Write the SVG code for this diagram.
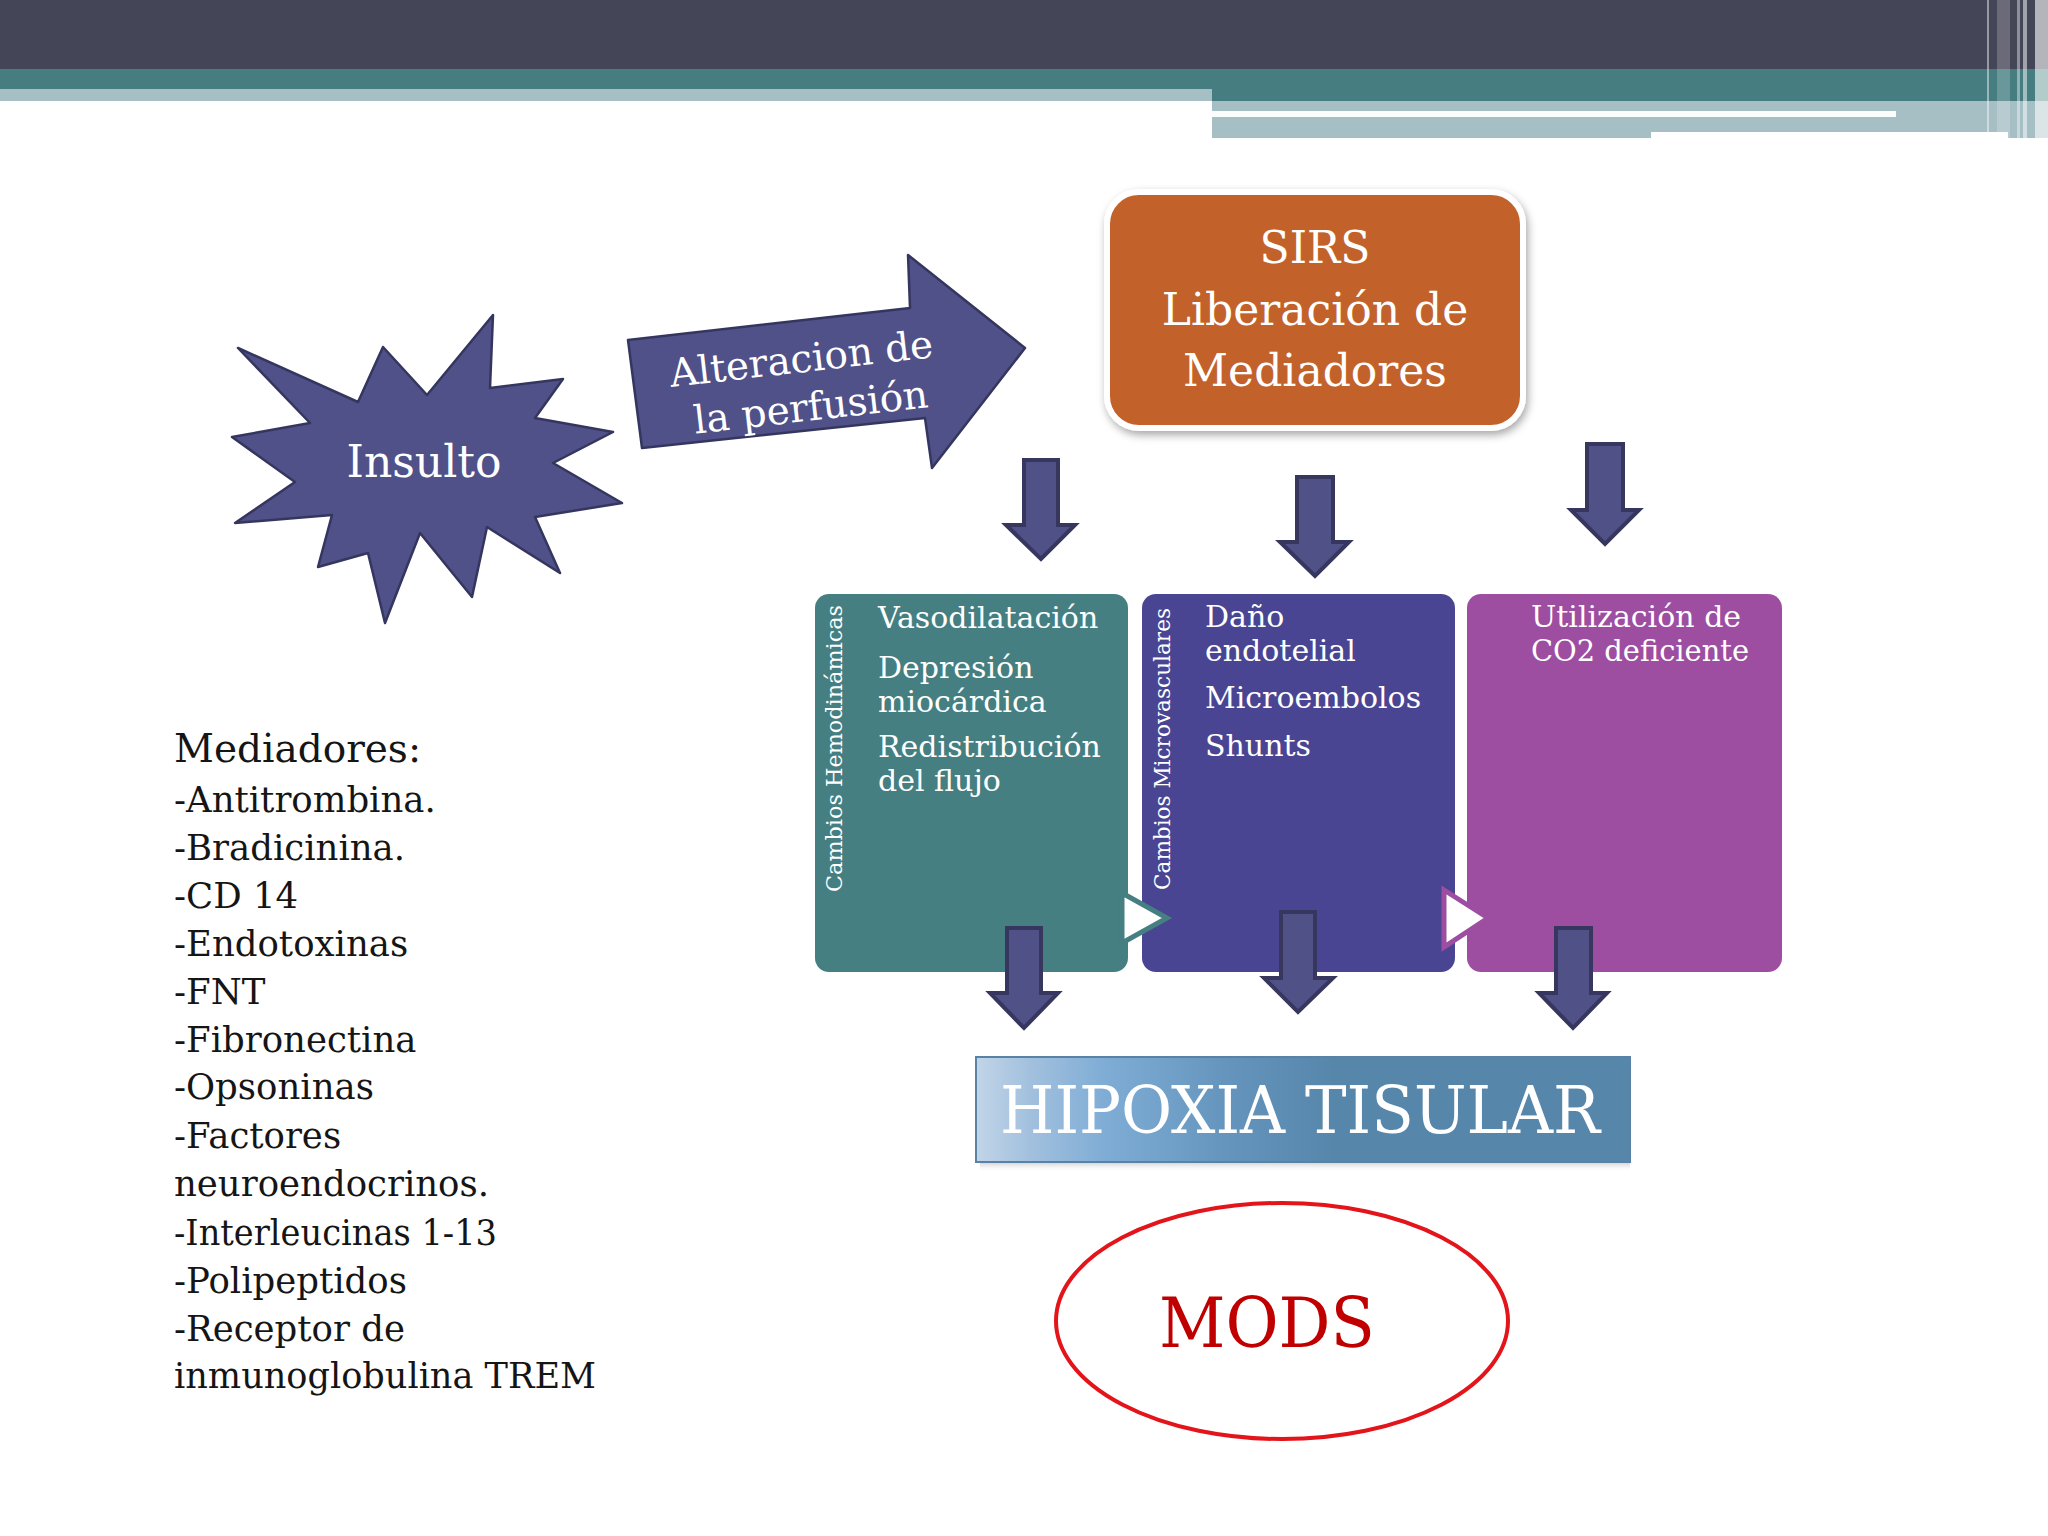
<svg xmlns="http://www.w3.org/2000/svg" width="2048" height="1536" viewBox="0 0 2048 1536">
<defs>
<style>
.serif{font-family:"DejaVu Serif","Liberation Serif",serif;}
.w{fill:#ffffff;}
.dark{fill:#151515;}
.shape{fill:#4f5188;stroke:#35365f;stroke-width:2.5;stroke-linejoin:round;}
.darr{fill:#4f5187;stroke:#36365f;stroke-width:4;stroke-linejoin:miter;}
.chev1{fill:#ffffff;stroke:#457f81;stroke-width:5;}
.chev2{fill:#ffffff;stroke:#9d4ea1;stroke-width:5;}
</style>
<linearGradient id="hipGrad" x1="0" y1="0" x2="1" y2="0">
<stop offset="0" stop-color="#c2d5e8"/>
<stop offset="0.08" stop-color="#a3c1de"/>
<stop offset="0.2" stop-color="#7eacd5"/>
<stop offset="0.38" stop-color="#6595bd"/>
<stop offset="0.55" stop-color="#5686aa"/>
<stop offset="1" stop-color="#5686aa"/>
</linearGradient>
<linearGradient id="hipShadow" x1="0" y1="0" x2="0" y2="1">
<stop offset="0" stop-color="#b8b8b8"/>
<stop offset="1" stop-color="#ffffff" stop-opacity="0"/>
</linearGradient>
<filter id="shadow" x="-10%" y="-10%" width="120%" height="130%">
<feDropShadow dx="2" dy="4" stdDeviation="4" flood-color="#000" flood-opacity="0.35"/>
</filter>
</defs>

<rect width="2048" height="1536" fill="#ffffff"/>

<g id="header">
<rect x="0" y="0" width="2048" height="69" fill="#454558"/>
<rect x="0" y="69" width="1212" height="20" fill="#457d80"/>
<rect x="0" y="89" width="1212" height="12" fill="#a6bfc5"/>
<rect x="1212" y="69" width="836" height="32" fill="#457d80"/>
<rect x="1212" y="101" width="836" height="37" fill="#a6bfc5"/>
<rect x="1212" y="111" width="684" height="6" fill="#fbfdfd"/>
<rect x="1651" y="132" width="357" height="6" fill="#ffffff"/>
<rect x="1987" y="0" width="2" height="138" fill="#ffffff" opacity="0.45"/>
<rect x="1997" y="0" width="13" height="138" fill="#ffffff" opacity="0.2"/>
<rect x="2017" y="0" width="3" height="138" fill="#ffffff" opacity="0.4"/>
<rect x="2023" y="0" width="4" height="138" fill="#ffffff" opacity="0.5"/>
<rect x="2035" y="0" width="13" height="138" fill="#ffffff" opacity="0.6"/>
</g>

<g id="insulto">
<polygon class="shape" points="493,315 490,388 563,379 535,418 613,432 553,463 622,503 535,517 560,573 487,527 472,597 420,533 385,623 368,553 318,567 332,515 235,523 295,482 232,437 310,423 238,348 358,402 383,347 427,395"/>
<text class="serif w" x="424" y="477" font-size="44" text-anchor="middle">Insulto</text>
</g>

<g id="alteracion">
<polygon class="shape" points="628,340 910,308 908,255 1025,348 932,468 925,418 642,448"/>
<g transform="rotate(-6.5 805 392)">
<text class="serif w" x="805" y="372" font-size="39" text-anchor="middle">Alteracion de</text>
<text class="serif w" x="809" y="421" font-size="39" text-anchor="middle">la perfusión</text>
</g>
</g>

<g id="sirs">
<rect x="1107" y="192" width="416" height="236" rx="32" fill="#c2622c" stroke="#ffffff" stroke-width="6" filter="url(#shadow)"/>
<text class="serif w" x="1315" y="263" font-size="44" text-anchor="middle">SIRS</text>
<text class="serif w" x="1315" y="325" font-size="44" text-anchor="middle">Liberación de</text>
<text class="serif w" x="1315" y="386" font-size="44" text-anchor="middle">Mediadores</text>
</g>

<g id="box-hemodinamicas">
<rect x="815" y="594" width="313" height="378" rx="14" fill="#457f81"/>
<text class="serif w" transform="translate(842,892) rotate(-90)" font-size="21.5" textLength="287" lengthAdjust="spacingAndGlyphs">Cambios Hemodinámicas</text>
<text class="serif w" font-size="30">
<tspan x="878" y="628">Vasodilatación</tspan>
<tspan x="878" y="678">Depresión</tspan>
<tspan x="878" y="712">miocárdica</tspan>
<tspan x="878" y="757">Redistribución</tspan>
<tspan x="878" y="791">del flujo</tspan>
</text>
</g>

<g id="box-microvasculares">
<rect x="1142" y="594" width="313" height="378" rx="14" fill="#4a4592"/>
<text class="serif w" transform="translate(1170,890) rotate(-90)" font-size="21.5" textLength="282" lengthAdjust="spacingAndGlyphs">Cambios Microvasculares</text>
<text class="serif w" font-size="30">
<tspan x="1205" y="627">Daño</tspan>
<tspan x="1205" y="661">endotelial</tspan>
<tspan x="1205" y="708">Microembolos</tspan>
<tspan x="1205" y="756">Shunts</tspan>
</text>
</g>

<g id="box-co2">
<rect x="1467" y="594" width="315" height="378" rx="14" fill="#9d4ea1"/>
<text class="serif w" font-size="30">
<tspan x="1531" y="627">Utilización de</tspan>
<tspan x="1531" y="661" textLength="218" lengthAdjust="spacingAndGlyphs">CO2 deficiente</tspan>
</text>
</g>

<g id="hipoxia">
<rect x="980" y="1160" width="650" height="12" fill="url(#hipShadow)"/>
<rect x="976" y="1057" width="654" height="105" fill="url(#hipGrad)" stroke="#5a82a5" stroke-width="2"/>
<text class="serif w" x="1000" y="1133" font-size="66" textLength="600" lengthAdjust="spacingAndGlyphs">HIPOXIA TISULAR</text>
</g>

<g id="mods">
<ellipse cx="1282" cy="1321" rx="226" ry="118" fill="#ffffff" stroke="#e3141a" stroke-width="4"/>
<text class="serif" x="1159" y="1347" font-size="70" textLength="216" lengthAdjust="spacingAndGlyphs" fill="#c00000">MODS</text>
</g>

<g id="mediadores">
<text class="serif dark" x="174" y="762" font-size="39">Mediadores:</text>
<text class="serif dark" font-size="35.5">
<tspan x="174" y="812">-Antitrombina.</tspan>
<tspan x="174" y="860">-Bradicinina.</tspan>
<tspan x="174" y="908">-CD 14</tspan>
<tspan x="174" y="956">-Endotoxinas</tspan>
<tspan x="174" y="1004">-FNT</tspan>
<tspan x="174" y="1052">-Fibronectina</tspan>
<tspan x="174" y="1099">-Opsoninas</tspan>
<tspan x="174" y="1148">-Factores</tspan>
<tspan x="174" y="1196">neuroendocrinos.</tspan>
<tspan x="174" y="1245" textLength="323" lengthAdjust="spacingAndGlyphs">-Interleucinas 1-13</tspan>
<tspan x="174" y="1293">-Polipeptidos</tspan>
<tspan x="174" y="1341">-Receptor de</tspan>
<tspan x="174" y="1388" textLength="422" lengthAdjust="spacingAndGlyphs">inmunoglobulina TREM</tspan>
</text>
</g>

<g id="connectors">
<polygon class="darr" points="1024,460 1058,460 1058,525 1075,525 1041,559 1006,525 1024,525"/>
<polygon class="darr" points="1297,477 1333,477 1333,542 1349,542 1315,576 1280,542 1297,542"/>
<polygon class="darr" points="1587,444 1623,444 1623,510 1639,510 1605,544 1571,510 1587,510"/>
<polygon class="chev1" points="1122,893 1167,918 1122,943"/>
<polygon class="chev2" points="1444,890 1488,918 1444,947"/>
<polygon class="darr" points="1007,928 1041,928 1041,993 1058,993 1024,1028 990,993 1007,993"/>
<polygon class="darr" points="1281,912 1315,912 1315,978 1333,978 1298,1012 1264,978 1281,978"/>
<polygon class="darr" points="1556,928 1591,928 1591,993 1607,993 1573,1028 1539,993 1556,993"/>
</g>
</svg>
